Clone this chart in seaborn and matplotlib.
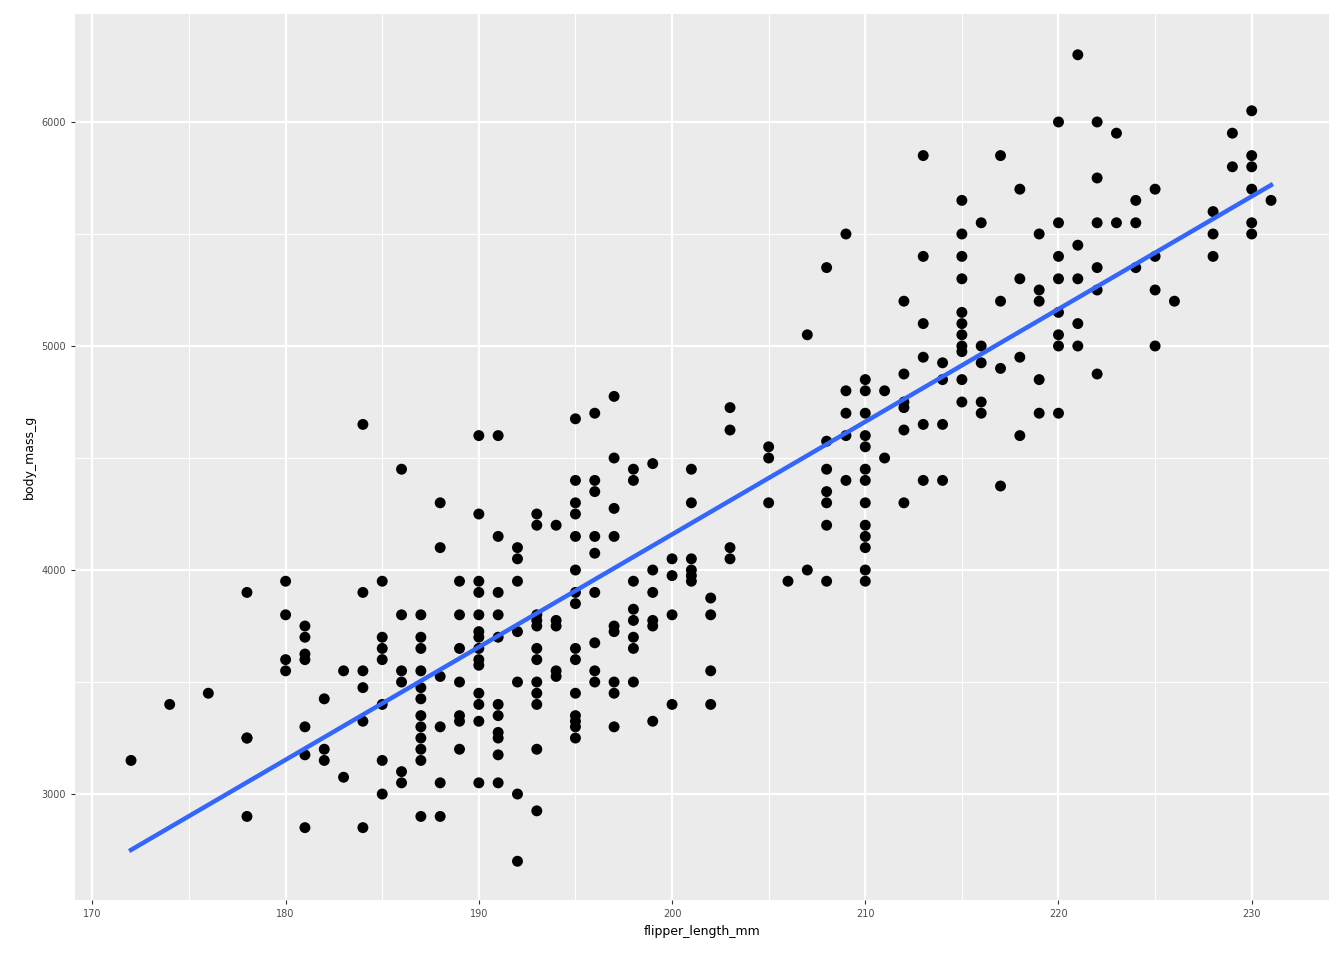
import matplotlib
matplotlib.use('Agg')
import numpy as np
import pandas as pd
import matplotlib.pyplot as plt
import seaborn as sns
from matplotlib.ticker import MultipleLocator

# valores, agrupados por longitud de aleta
masas_por_aleta = {
    172: [3150], 174: [3400], 176: [3450], 178: [3900, 3250, 3250, 2900],
    180: [3950, 3800, 3600, 3550], 181: [3750, 3700, 3625, 3600, 3300, 3175, 2850],
    182: [3425, 3200, 3150], 183: [3550, 3075], 184: [4650, 3900, 3550, 3475, 3325, 2850],
    185: [3950, 3700, 3650, 3600, 3400, 3150, 3000], 186: [4450, 3800, 3550, 3500, 3100, 3050],
    187: [3800, 3700, 3650, 3550, 3475, 3425, 3350, 3300, 3250, 3200, 3150, 2900],
    188: [4300, 4100, 3525, 3300, 3050, 2900], 189: [3950, 3800, 3650, 3500, 3350, 3325, 3200],
    190: [4600, 4250, 3950, 3900, 3800, 3725, 3700, 3650, 3600, 3575, 3450, 3400, 3325, 3050],
    191: [4600, 4150, 3900, 3800, 3700, 3400, 3350, 3275, 3250, 3175, 3050],
    192: [4100, 4050, 3950, 3725, 3500, 3000, 2700],
    193: [4250, 4200, 3800, 3775, 3750, 3650, 3600, 3500, 3450, 3400, 3200, 2925],
    194: [4200, 3775, 3750, 3550, 3525],
    195: [4675, 4400, 4300, 4250, 4150, 4000, 3900, 3850, 3650, 3600, 3450, 3350, 3325, 3300, 3250],
    196: [4700, 4400, 4350, 4150, 4075, 3900, 3675, 3550, 3500],
    197: [4775, 4500, 4275, 4150, 3750, 3725, 3500, 3450, 3300],
    198: [4450, 4400, 3950, 3825, 3775, 3700, 3650, 3500],
    199: [4475, 4000, 3900, 3775, 3750, 3325], 200: [4050, 3975, 3800, 3400],
    201: [4450, 4300, 4050, 4000, 3975, 3950], 202: [3875, 3800, 3550, 3400],
    203: [4725, 4625, 4100, 4050], 205: [4550, 4500, 4300], 206: [3950], 207: [5050, 4000],
    208: [5350, 4575, 4450, 4350, 4300, 4200, 3950], 209: [5500, 4800, 4700, 4600, 4400],
    210: [4850, 4800, 4700, 4600, 4550, 4450, 4400, 4300, 4200, 4150, 4100, 4000, 3950],
    211: [4800, 4500], 212: [5200, 4875, 4750, 4725, 4625, 4300],
    213: [5850, 5400, 5100, 4950, 4650, 4400], 214: [4925, 4850, 4650, 4400],
    215: [5650, 5500, 5400, 5300, 5150, 5100, 5050, 5000, 4975, 4850, 4750],
    216: [5550, 5000, 4925, 4750, 4700], 217: [5850, 5200, 4900, 4375],
    218: [5700, 5300, 4950, 4600], 219: [5500, 5250, 5200, 4850, 4700],
    220: [6000, 5550, 5400, 5300, 5150, 5050, 5000, 4700],
    221: [6300, 5450, 5300, 5100, 5000], 222: [6000, 5750, 5550, 5350, 5250, 4875],
    223: [5950, 5550], 224: [5650, 5550, 5350], 225: [5700, 5400, 5250, 5000],
    226: [5200], 228: [5600, 5500, 5400], 229: [5950, 5800],
    230: [6050, 5850, 5800, 5700, 5550, 5500], 231: [5650],
}

flipper_length_mm = [x for x, ys in masas_por_aleta.items() for _ in ys]
body_mass_g = [y for ys in masas_por_aleta.values() for y in ys]
df = pd.DataFrame({"flipper_length_mm": flipper_length_mm, "body_mass_g": body_mass_g})

fig = plt.figure(figsize=(13.44, 9.6), dpi=100)
ax = fig.add_axes([75 / 1344, 60 / 960, 1254 / 1344, 886 / 960])
ax.set_facecolor("#EBEBEB")

sns.scatterplot(data=df, x="flipper_length_mm", y="body_mass_g", ax=ax,
                color="black", s=62, edgecolor="none", zorder=3)
sns.regplot(data=df, x="flipper_length_mm", y="body_mass_g", ax=ax, ci=None,
            scatter=False, truncate=True,
            line_kws=dict(color="#3366FF", lw=3.2, zorder=4))

ax.set_xlim(169.1, 234.0)
ax.set_ylim(2527, 6482)
ax.xaxis.set_major_locator(MultipleLocator(10))
ax.xaxis.set_minor_locator(MultipleLocator(5))
ax.yaxis.set_major_locator(MultipleLocator(1000))
ax.yaxis.set_minor_locator(MultipleLocator(500))
ax.grid(which="major", color="white", lw=1.6)
ax.grid(which="minor", color="white", lw=0.8)
ax.set_axisbelow(True)
for s in ax.spines.values():
    s.set_visible(False)
ax.tick_params(which="major", length=3, color="#333333", labelsize=7, labelcolor="#4D4D4D")
ax.tick_params(which="minor", length=0)
ax.set_xlabel("flipper_length_mm", fontsize=9)
ax.set_ylabel("body_mass_g", fontsize=9)

plt.savefig("out.png", dpi=100)
plt.close()
